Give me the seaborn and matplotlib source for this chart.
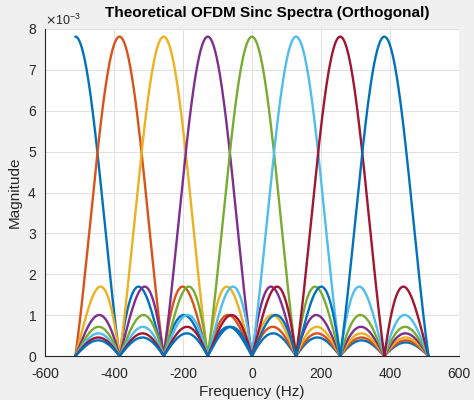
#!/usr/bin/env python

import numpy as np
import pandas as pd
import seaborn as sns
from matplotlib import pyplot as plt
from matplotlib.ticker import ScalarFormatter

# subcarrier centre frequencies (Hz), spacing and peak height
centers = [-512, -384, -256, -128, 0, 128, 256, 384]
spacing = 128
peak = 1 / 128          # ~7.8e-3
f_min, f_max = -512, 512

colors = ["#0072BD", "#D95319", "#EDB120", "#7E2F8E",
          "#77AC30", "#4DBEEE", "#A2142F", "#0072BD"]

xticks = [-600, -400, -200, 0, 200, 400, 600]
yticks = [0, 0.001, 0.002, 0.003, 0.004, 0.005, 0.006, 0.007, 0.008]

sns.set_theme(style="whitegrid")
plt.rcParams["font.family"] = ["Liberation Sans", "DejaVu Sans"]
plt.rcParams["axes.unicode_minus"] = False

# theoretical |sinc| spectrum of every subcarrier
f = np.linspace(f_min, f_max, 2049)
rows = []
for k, c in enumerate(centers):
    mag = peak * np.abs(np.sinc((f - c) / spacing))
    rows.append(pd.DataFrame({"Frequency (Hz)": f, "Magnitude": mag, "sub": k}))
df = pd.concat(rows, ignore_index=True)

fig = plt.figure(figsize=(4.74, 4.0), dpi=100, facecolor="#f0f0f0")
ax = fig.add_axes([0.095, 0.11, 0.873, 0.8175])

sns.lineplot(data=df, x="Frequency (Hz)", y="Magnitude", hue="sub",
             palette=colors, linewidth=1.7, legend=False, ax=ax, sort=False)

ax.set_xlim(-600, 600)
ax.set_ylim(0, 0.008)
ax.set_xticks(xticks)
ax.set_yticks(yticks)

fmt = ScalarFormatter(useMathText=True)
fmt.set_powerlimits((-3, -3))
ax.yaxis.set_major_formatter(fmt)
ax.yaxis.get_offset_text().set_fontsize(9)
ax.yaxis.get_offset_text().set_color("#262626")

ax.grid(True, color="#e0e0e0", linewidth=0.7)
sns.despine(ax=ax)
for s in ["left", "bottom"]:
    ax.spines[s].set_color("#262626")
    ax.spines[s].set_linewidth(0.8)
ax.tick_params(direction="in", length=3, color="#262626", labelsize=10,
               labelcolor="#262626")
ax.tick_params(axis="x", pad=8)
ax.tick_params(axis="y", pad=6)

ax.set_xlabel("Frequency (Hz)", fontsize=11, color="#262626", labelpad=3)
ax.set_ylabel("Magnitude", fontsize=11, color="#262626", labelpad=4)
ax.set_title("Theoretical OFDM Sinc Spectra (Orthogonal)", fontsize=11,
             fontweight="bold", color="black", pad=9, x=0.536)

fig.savefig("out.png", dpi=100, facecolor=fig.get_facecolor())
